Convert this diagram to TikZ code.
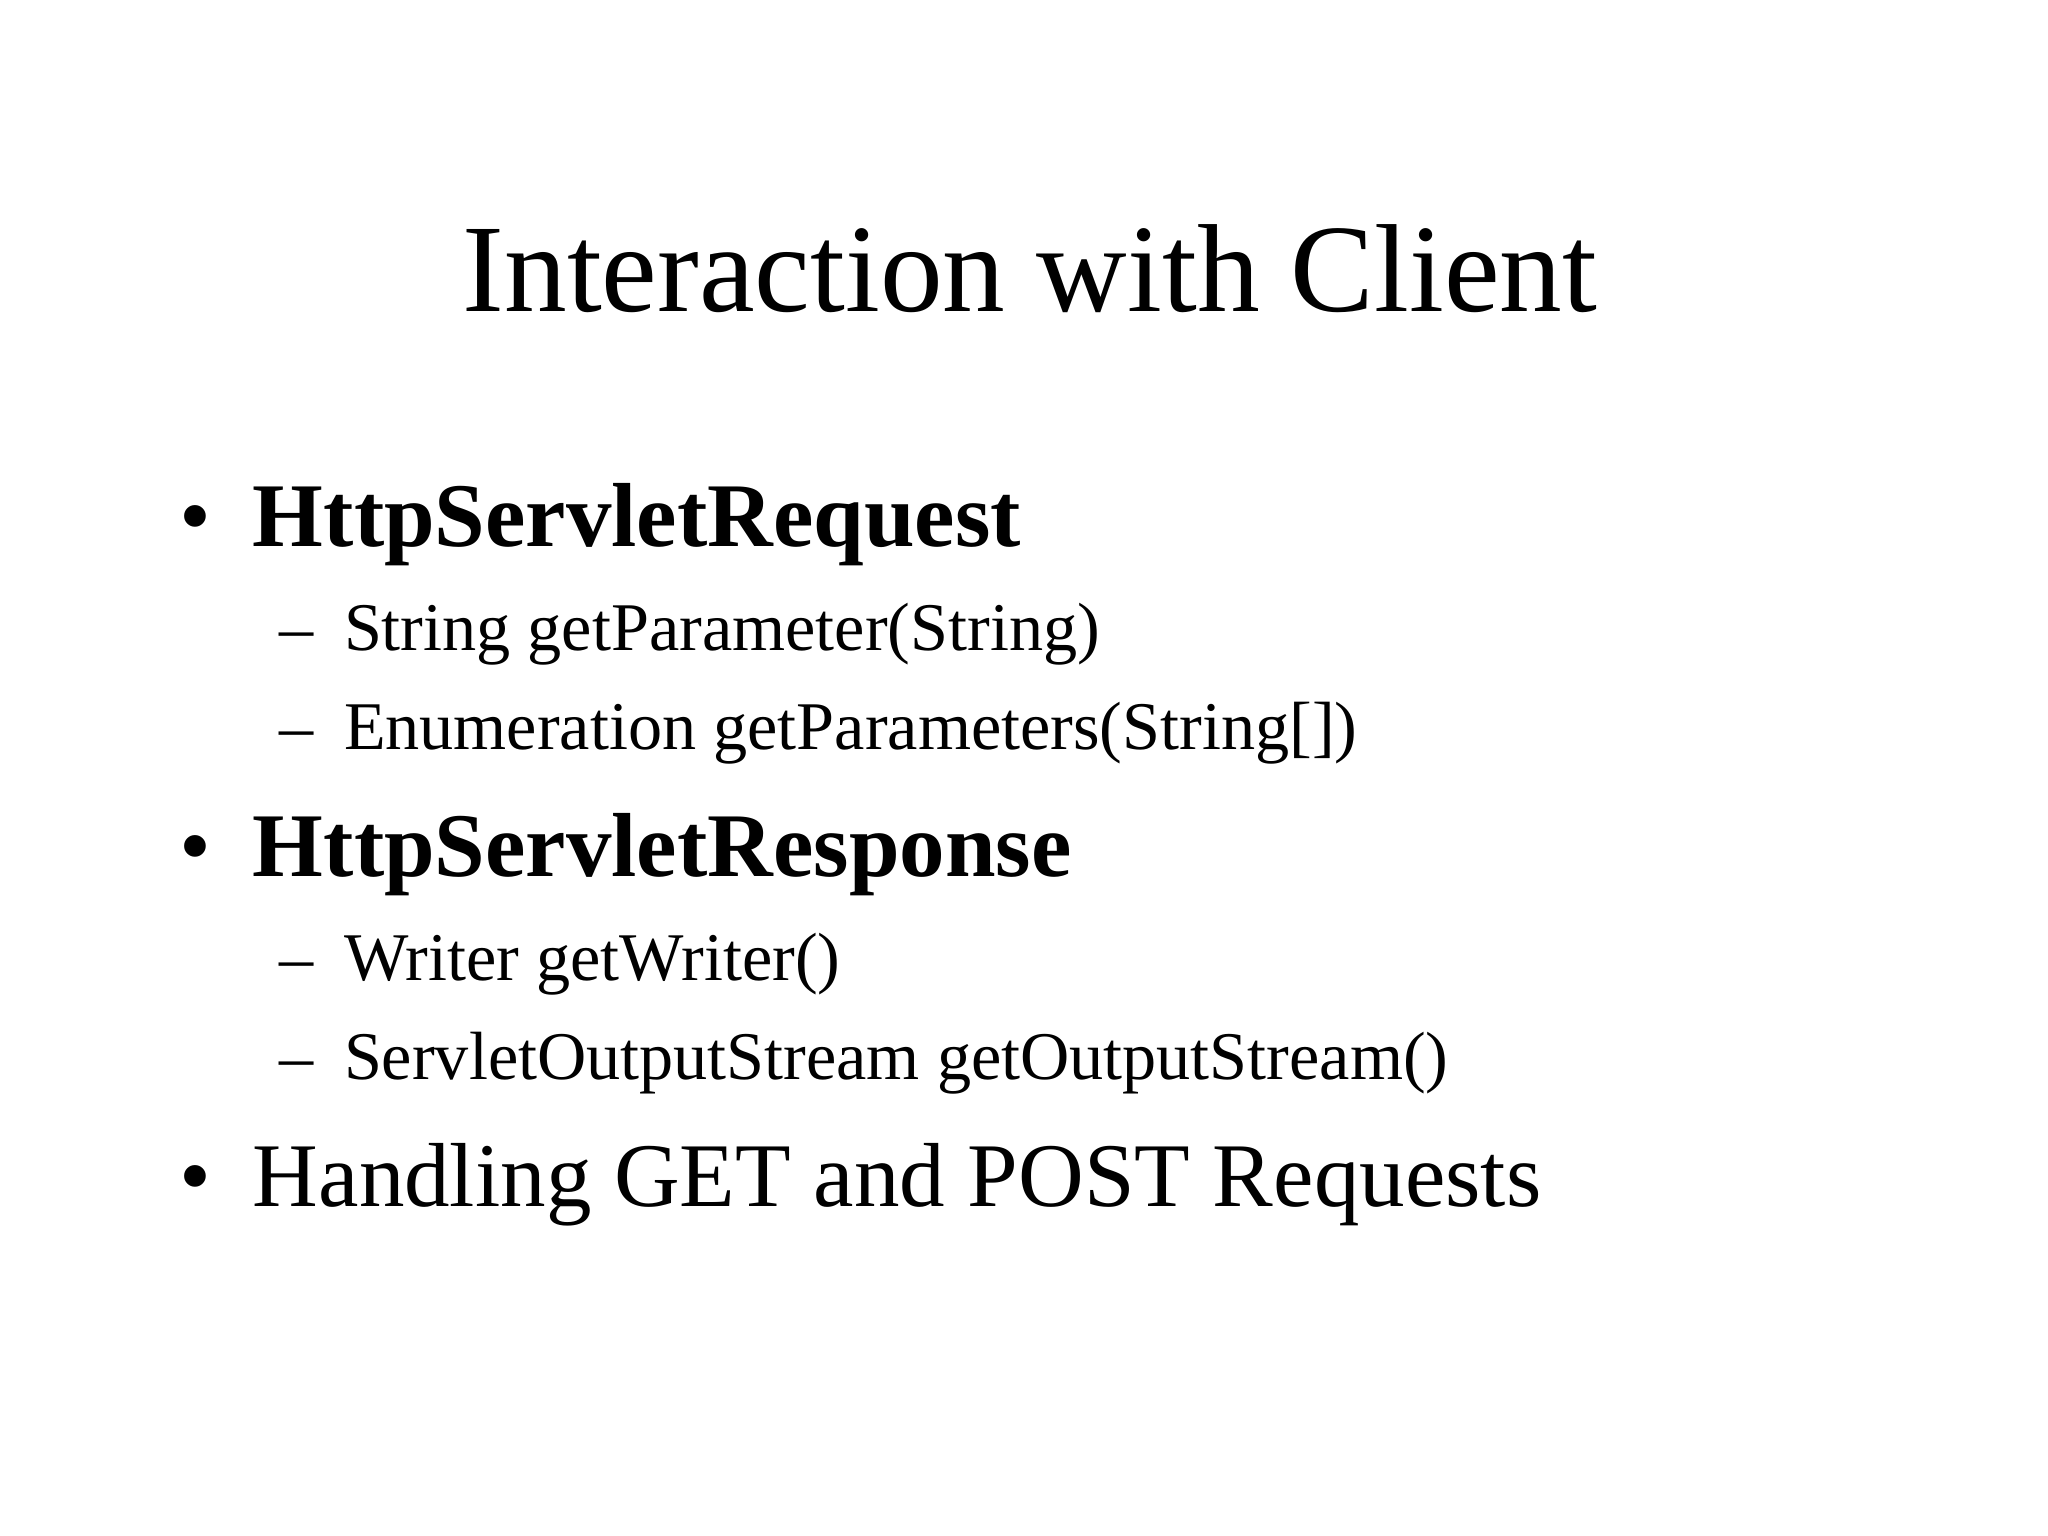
\documentclass[tikz,border=0pt]{standalone}
\usepackage{fontspec}
\setmainfont{Liberation Serif}
\begin{document}
\begin{tikzpicture}[x=0.01cm,y=-0.01cm,
  title/.style={anchor=base west,inner sep=0pt,font=\fontsize{27}{30}\selectfont},
  lvl1/.style={anchor=base west,inner sep=0pt,font=\fontsize{19.6}{24}\selectfont},
  lvl2/.style={anchor=base west,inner sep=0pt,font=\fontsize{14.7}{18}\selectfont}]
\useasboundingbox (0,0) rectangle (1552,1164);
\node[title] (t) at (350,236) {Interaction with Client};
\node[lvl1] (b1d) at (135,414) {•};
\node[lvl1] (b1) at (191,414) {\textbf{HttpServletRequest}};
\node[lvl2] (s1d) at (211,493) {–};
\node[lvl2] (s1) at (260,493) {String getParameter(String)};
\node[lvl2] (s2d) at (211,568) {–};
\node[lvl2] (s2) at (260,568) {Enumeration getParameters(String[])};
\node[lvl1] (b2d) at (135,664) {•};
\node[lvl1] (b2) at (191,664) {\textbf{HttpServletResponse}};
\node[lvl2] (s3d) at (211,743) {–};
\node[lvl2] (s3) at (260,743) {Writer getWriter()};
\node[lvl2] (s4d) at (211,818) {–};
\node[lvl2] (s4) at (260,818) {ServletOutputStream getOutputStream()};
\node[lvl1] (b3d) at (135,914) {•};
\node[lvl1] (b3) at (191,914) {Handling GET and POST Requests};
\end{tikzpicture}
\end{document}
